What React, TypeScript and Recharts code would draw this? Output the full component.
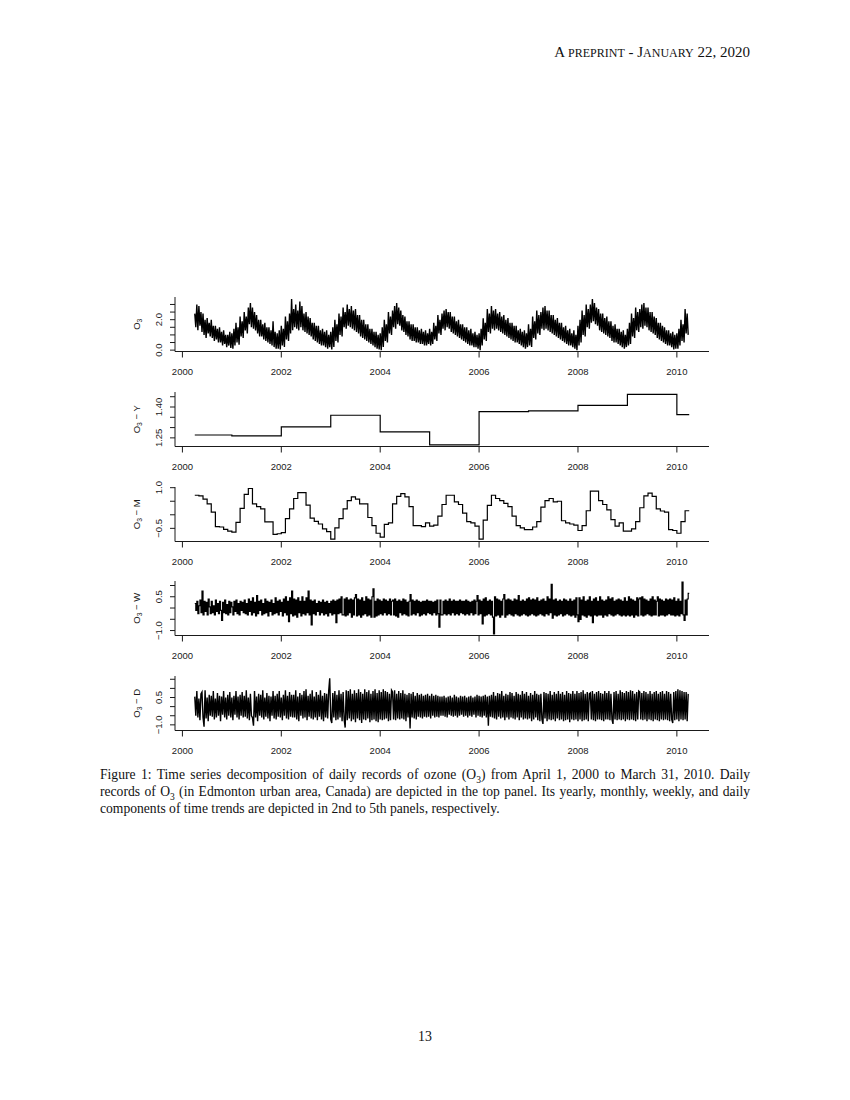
import React from 'react';
import { LineChart, Line, XAxis, YAxis } from 'recharts';

// time grid: daily records run from April 2000 to March 2010
const START = 2000.25;
const END = 2010.25;
const X_DOMAIN: [number, number] = [1999.85, 2010.65];
const yearTicks = [2000, 2002, 2004, 2006, 2008, 2010];

const ozoneDaily = [
  2.4, 1.5, 3.0, 1.3, 2.9, 1.6, 2.5, 1.2, 2.4, 1.0, 2.0, 0.8, 2.1, 1.1, 1.8, 0.9, 2.0, 0.8, 1.6, 0.6, 1.6, 0.7, 1.4, 0.5,
  1.5, 0.5, 1.2, 0.3, 1.3, 0.4, 1.0, 0.2, 1.0, 0.3, 1.2, 0.15, 1.1, 0.1, 1.4, 0.3, 1.8, 0.5, 1.5, 0.35, 2.2, 0.9, 1.9, 0.8,
  2.5, 1.3, 2.2, 1.1, 2.8, 1.7, 3.1, 1.5, 2.8, 1.4, 2.5, 1.3, 2.3, 1.1, 2.0, 0.9, 2.0, 0.9, 1.7, 0.7, 1.8, 0.6, 1.5, 0.5,
  1.5, 0.4, 1.3, 0.3, 1.9, 0.2, 1.2, 0.1, 1.1, 0.1, 1.3, 0.05, 1.6, 0.3, 1.4, 0.2, 2.2, 0.7, 1.9, 0.6, 2.4, 1.1, 3.35, 1.3,
  2.7, 1.5, 3.0, 1.4, 2.6, 1.3, 3.2, 1.5, 2.9, 1.3, 2.4, 1.2, 2.5, 1.1, 2.2, 1.0, 2.1, 0.9, 1.8, 0.7, 1.8, 0.6, 1.6, 0.5,
  1.6, 0.4, 1.3, 0.3, 1.4, 0.3, 1.2, 0.2, 1.3, 0.1, 1.0, 0.2, 1.2, 0.05, 1.5, 0.2, 2.0, 0.6, 1.7, 0.5, 2.4, 1.0, 2.2, 0.9,
  2.8, 1.5, 2.5, 1.4, 3.0, 1.6, 2.7, 1.5, 2.9, 1.4, 2.6, 1.3, 2.7, 1.2, 2.3, 1.1, 2.3, 0.9, 2.0, 0.8, 2.0, 0.7, 1.7, 0.6,
  1.7, 0.5, 1.4, 0.4, 1.4, 0.3, 1.2, 0.2, 1.2, 0.1, 1.0, 0.05, 1.1, 0.0, 1.5, 0.2, 2.0, 0.6, 1.7, 0.5, 2.5, 1.1, 2.2, 1.0,
  2.6, 1.5, 2.9, 1.4, 3.1, 1.7, 2.8, 1.6, 2.6, 1.3, 2.3, 1.2, 2.2, 1.0, 1.9, 0.9, 1.9, 0.7, 1.7, 0.6, 1.7, 0.6, 1.5, 0.5,
  1.5, 0.5, 1.3, 0.4, 1.4, 0.4, 1.2, 0.3, 1.3, 0.3, 1.1, 0.4, 1.4, 0.3, 1.2, 0.4, 1.8, 0.7, 1.6, 0.6, 2.3, 1.1, 2.0, 1.0,
  2.4, 1.4, 2.6, 1.3, 2.7, 1.5, 2.5, 1.4, 2.5, 1.2, 2.2, 1.1, 2.2, 1.0, 1.9, 0.9, 2.0, 0.8, 1.7, 0.7, 1.7, 0.6, 1.5, 0.5,
  1.5, 0.4, 1.3, 0.3, 1.4, 0.3, 1.1, 0.2, 1.2, 0.2, 1.0, 0.1, 1.1, 0.0, 1.4, 0.3, 2.1, 0.7, 1.8, 0.6, 2.7, 1.2, 2.4, 1.1,
  2.9, 1.4, 2.6, 1.3, 2.7, 1.4, 2.4, 1.3, 2.5, 1.2, 2.2, 1.1, 2.3, 1.0, 2.0, 0.9, 2.1, 0.8, 1.8, 0.7, 1.8, 0.6, 1.6, 0.5,
  1.6, 0.5, 1.3, 0.4, 1.4, 0.3, 1.2, 0.2, 1.3, 0.1, 1.1, 0.2, 1.7, 0.3, 1.4, 0.2, 2.2, 0.8, 1.9, 0.7, 2.6, 1.1, 2.3, 1.0,
  2.5, 1.4, 2.8, 1.3, 2.9, 1.4, 2.6, 1.3, 2.6, 1.2, 2.3, 1.1, 2.3, 1.0, 2.0, 0.9, 2.1, 0.8, 1.8, 0.7, 1.8, 0.6, 1.5, 0.5,
  1.6, 0.4, 1.3, 0.3, 1.4, 0.3, 1.1, 0.2, 1.3, 0.1, 1.0, 0.0, 1.6, 0.3, 2.0, 0.5, 2.6, 1.0, 2.3, 0.9, 3.0, 1.5, 2.7, 1.4,
  3.0, 1.8, 3.35, 1.9, 3.1, 1.7, 2.8, 1.6, 2.7, 1.3, 2.4, 1.2, 2.4, 1.1, 2.1, 1.0, 2.2, 0.9, 1.9, 0.8, 1.9, 0.6, 1.6, 0.5,
  1.7, 0.5, 1.4, 0.4, 1.4, 0.3, 1.2, 0.2, 1.3, 0.1, 1.0, 0.2, 1.4, 0.3, 1.8, 0.4, 2.4, 0.9, 2.1, 0.8, 2.8, 1.3, 2.5, 1.2,
  2.7, 1.5, 3.0, 1.4, 3.1, 1.6, 2.8, 1.5, 2.8, 1.3, 2.5, 1.2, 2.5, 1.1, 2.2, 1.0, 2.1, 0.8, 1.8, 0.7, 1.8, 0.6, 1.6, 0.5,
  1.5, 0.4, 1.3, 0.3, 1.3, 0.3, 1.1, 0.2, 1.2, 0.05, 1.0, 0.1, 1.1, 0.1, 1.4, 0.3, 2.0, 0.6, 1.7, 0.5, 2.7, 1.1, 2.4, 1.0,
];

// yearly component: calendar-year steps
const yearStarts = [2000.25, 2001, 2002, 2003, 2004, 2005, 2006, 2007, 2008, 2009, 2010];
const yearlyComp = [1.264, 1.26, 1.303, 1.36, 1.279, 1.216, 1.378, 1.381, 1.408, 1.461, 1.363];

// monthly component, Apr 2000 .. Mar 2010
const monthlyComp = [
  0.72, 0.7, 0.58, 0.4, 0.1, -0.44, -0.45, -0.54, -0.6,
  -0.64, -0.28, 0.24, 0.75, 0.97, 0.4, 0.3, 0.22, -0.26, -0.26, -0.72, -0.7,
  -0.66, -0.14, 0.22, 0.6, 0.82, 0.82, 0.36, -0.12, -0.24, -0.34, -0.52, -0.62,
  -0.9, -0.48, -0.14, 0.22, 0.52, 0.66, 0.58, 0.4, 0.4, -0.1, -0.4, -0.68,
  -0.82, -0.35, -0.3, 0.4, 0.68, 0.78, 0.66, 0.3, -0.4, -0.4, -0.44, -0.3,
  -0.42, -0.38, -0.05, 0.38, 0.72, 0.72, 0.48, 0.38, 0.06, -0.25, -0.3, -0.42,
  -0.9, -0.2, 0.35, 0.72, 0.6, 0.52, 0.42, 0.3, -0.05, -0.4, -0.48, -0.55,
  -0.55, -0.45, -0.25, 0.28, 0.52, 0.6, 0.48, 0.5, -0.22, -0.3, -0.34, -0.38,
  -0.58, -0.4, 0.15, 0.87, 0.87, 0.52, 0.38, 0.18, -0.18, -0.42, -0.3, -0.6,
  -0.6, -0.52, -0.25, 0.26, 0.7, 0.8, 0.68, 0.22, 0.14, 0.1, -0.55, -0.58,
  -0.68, -0.25, 0.15,
];

// weekly component, about one reading per week, Apr..Mar per row
const weeklyComp = [
  0.2, -0.1, 0.3, -0.25, 0.1, 0.35, -0.2, 0.75, -0.3, 0.3, -0.15, 0.25, -0.3, 0.4, 0.05, -0.25,
  0.3, -0.2, 0.1, -0.3, 0.35, -0.15, 0.2, -0.25, 0.3, -0.1, -0.55, 0.25, -0.2, 0.35, -0.25, 0.15,
  -0.3, 0.3, -0.2, 0.25, 0.05, -0.3, 0.3, -0.15, 0.35, -0.25, 0.2, -0.3, 0.3, -0.1, 0.25, -0.2,
  0.35, -0.25, 0.2, -0.3, 0.4, -0.15, 0.3, -0.3, 0.45, -0.2, 0.25, -0.35, 0.55, -0.25, 0.3, -0.1,
  0.35, -0.3, 0.2, -0.25, 0.4, -0.2, 0.3, -0.35, 0.25, -0.15, 0.35, -0.3, 0.2, -0.25, 0.45, -0.2,
  0.3, -0.3, 0.35, -0.15, 0.25, -0.35, 0.4, -0.2, 0.5, -0.3, 0.3, -0.6, 0.45, -0.25, 0.75, -0.35,
  0.4, -0.3, 0.35, -0.4, 0.45, -0.2, 0.3, -0.35, 0.5, -0.25, 0.3, -0.3, 0.45, -0.2, 0.75, -0.3,
  0.35, -0.75, 0.3, -0.25, 0.35, -0.3, 0.2, -0.15, 0.3, -0.3, 0.25, -0.2, 0.35, -0.3, 0.25, -0.25,
  0.3, -0.35, 0.2, -0.2, 0.3, -0.3, 0.35, -0.25, 0.3, -0.65, 0.35, -0.25, 0.4, -0.2, 0.5, -0.3,
  -0.3, 0.4, -0.35, 0.45, -0.3, 0.35, -0.2, 0.4, -0.4, 0.35, -0.3, 0.45, 0.6, -0.35, 0.4, -0.3,
  0.35, -0.4, 0.45, -0.3, 0.3, -0.25, 0.5, -0.35, 0.4, -0.3, 0.35, -0.4, 0.5, 0.85, -0.4, 0.3,
  -0.35, 0.4, -0.3, 0.35, -0.25, 0.3, -0.3, 0.4, -0.2, 0.35, -0.3, 0.3, -0.25, 0.4, -0.3, 0.3,
  0.35, -0.3, 0.4, -0.35, 0.3, -0.4, 0.35, -0.2, 0.3, -0.3, 0.4, -0.25, 0.35, -0.3, 0.25, -0.35,
  0.3, 0.6, -0.3, 0.35, -0.25, 0.3, -0.3, 0.35, -0.2, 0.3, -0.35, 0.25, -0.3, 0.3, -0.25, 0.3,
  -0.3, 0.35, -0.2, 0.3, -0.25, 0.3, -0.3, 0.25, -0.2, 0.3, -0.3, 0.35, -0.25, -0.85, 0.35, -0.3,
  -0.3, 0.3, -0.25, 0.35, -0.3, 0.3, -0.25, 0.4, -0.3, 0.3, -0.2, 0.35, -0.3, 0.3, -0.25, 0.3,
  -0.3, 0.35, -0.2, 0.3, -0.25, 0.3, -0.3, 0.35, -0.25, 0.3, -0.3, 0.25, -0.2, 0.3, -0.3, 0.35,
  -0.25, 0.3, 0.55, -0.3, 0.35, -0.25, 0.3, -0.7, 0.4, -0.35, 0.45, -0.3, 0.3, -0.25, 0.35, -0.3,
  0.3, -0.4, -1.15, 0.5, -0.35, 0.4, -0.3, 0.35, -0.4, 0.3, -0.3, 0.4, 0.6, -0.4, 0.35, -0.3,
  0.4, -0.25, 0.35, -0.3, 0.3, -0.35, 0.4, -0.25, 0.35, -0.3, 0.55, -0.35, 0.3, -0.3, 0.35, -0.25,
  0.3, -0.3, 0.4, -0.35, 0.45, -0.3, 0.35, -0.25, 0.4, -0.3, 0.35, -0.35, 0.45, -0.3, 0.3, -0.25,
  0.35, -0.3, 0.4, -0.35, 0.3, -0.25, 0.5, -0.3, 0.4, -0.2, 1.05, -0.45, 0.35, -0.3, 0.4, -0.35,
  0.3, -0.3, 0.35, -0.25, 0.3, -0.35, 0.4, -0.3, 0.35, -0.25, 0.3, -0.3, 0.4, -0.35, 0.3, -0.3,
  0.35, -0.4, 0.45, -0.3, -0.6, 0.45, -0.5, 0.35, -0.3, 0.5, -0.35, 0.3, -0.4, 0.35, -0.3, 0.5,
  -0.35, 0.3, -0.65, 0.4, -0.3, 0.45, -0.35, 0.3, -0.3, 0.5, -0.3, 0.35, -0.4, 0.3, -0.3, 0.35,
  -0.35, 0.5, -0.25, 0.4, -0.3, 0.45, -0.35, 0.3, -0.3, 0.35, -0.25, 0.4, -0.3, 0.35, -0.35, 0.3,
  -0.3, 0.45, -0.35, 0.3, -0.3, 0.5, -0.35, 0.4, -0.3, 0.35, -0.4, 0.3, -0.3, 0.45, -0.35, 0.4,
  0.45, -0.3, 0.5, -0.35, 0.4, -0.3, 0.35, -0.25, 0.3, -0.3, 0.4, -0.35, 0.5, -0.3, 0.35, -0.3,
  0.3, 0.5, -0.35, 0.4, -0.3, 0.35, -0.3, 0.3, -0.35, 0.4, -0.3, 0.35, -0.25, 0.4, -0.3, 0.35,
  -0.3, 0.45, -0.35, 0.3, -0.3, 0.4, -0.35, 0.3, -0.25, 1.15, -0.3, -0.55, 0.35, -0.3, 0.4, 0.65,
];

// daily component, alternating peaks / troughs, four per month, Apr..Mar per row
const dailyComp = [
  0.55, -0.5, 0.85, -0.6, 0.45, -0.75, 0.7, 0.8, -0.6, -1.1, 0.9, -0.65, 0.5, -0.8, 0.65, -0.5,
  0.6, -0.55, 0.85, -0.7, 0.45, -0.6, 0.75, -0.5, 0.6, -0.8, 0.55, -0.45, 0.85, -0.6, 0.5, -0.7,
  0.65, -0.5, 0.8, -0.6, 0.5, -0.75, 0.6, -0.45, 0.85, -0.6, 0.55, -0.7, 0.65, -0.5, 0.8, -0.6,
  0.6, -0.55, 0.9, -0.65, 0.5, -0.75, 0.7, -0.5, -0.6, -1.05, 0.85, -0.6, 0.55, -0.8, 0.7, -0.5,
  0.65, -0.6, 0.9, -0.7, 0.5, -0.55, 0.75, -0.65, 0.6, -0.8, 0.55, -0.5, 0.85, -0.65, 0.6, -0.7,
  0.7, -0.55, 0.85, -0.6, 0.5, -0.75, 0.65, -0.5, 0.9, -0.65, 0.6, -0.7, 0.8, -0.55, 0.65, -0.6,
  0.65, -0.6, 0.9, -0.7, 0.55, -0.8, 0.75, -0.5, 0.65, -0.65, 0.85, -0.6, 0.95, -0.75, 0.6, -0.55,
  0.7, -0.65, 0.9, -0.7, 0.55, -0.6, 0.8, -0.75, 0.65, -0.55, 0.9, -0.7, 0.6, -0.8, 0.75, -0.6,
  0.7, -0.65, 0.85, 1.56, -0.7, -0.9, 0.75, -0.6, 0.85, -0.75, 0.65, -0.7, 0.9, -0.6, 0.7, -0.8,
  0.8, -0.7, -1.15, 0.9, -0.75, 0.85, -0.65, 0.95, -0.8, 0.7, -0.7, 0.9, -0.85, 0.75, -0.65, 0.95,
  -0.75, 0.8, -0.9, 0.7, -0.7, 0.95, -0.75, 0.8, -0.65, 0.9, -0.85, 0.7, -0.75, 0.85, -0.7, 0.95,
  -0.8, 0.75, -0.85, 0.9, -0.7, 0.8, -0.75, 0.95, -0.7, 0.85, -0.65, 0.8, -0.8, 0.7, -0.75, 0.9,
  0.8, -0.7, 0.9, -0.75, 0.7, -0.65, 0.85, -0.7, 0.75, -0.65, 0.9, -0.7, 0.7, -0.8, 0.65, -0.6,
  0.75, -1.2, 0.7, -0.6, 0.8, -0.65, 0.6, -0.7, 0.75, -0.55, 0.65, -0.6, 0.7, -0.65, 0.6, -0.55,
  0.65, -0.6, 0.7, -0.55, 0.6, -0.65, 0.7, -0.5, 0.6, -0.6, 0.65, -0.55, 0.6, -0.6, 0.55, -0.5,
  0.55, -0.5, 0.6, -0.55, 0.5, -0.6, 0.55, -0.45, 0.6, -0.5, 0.5, -0.55, 0.65, -0.5, 0.55, -0.6,
  0.5, -0.5, 0.6, -0.45, 0.55, -0.55, 0.6, -0.5, 0.5, -0.6, 0.55, -0.5, 0.6, -0.55, 0.5, -0.45,
  0.55, -0.6, 0.65, -0.5, 0.6, -0.55, 0.55, -0.6, 0.6, -0.5, 0.65, -0.6, 0.55, -1.05, 0.6, -0.55,
  0.65, -0.6, 0.8, -0.65, 0.6, -0.7, 0.75, -0.55, 0.7, -0.65, 0.85, -0.6, 0.6, -0.75, 0.7, -0.6,
  0.65, -0.7, 0.8, -0.6, 0.75, -0.65, 0.6, -0.7, 0.8, -0.6, 0.7, -0.75, 0.65, -0.6, 0.85, -0.7,
  0.7, -0.65, 0.8, -0.7, 0.6, -0.65, 0.75, -0.8, 0.65, -0.7, 0.85, -0.6, 0.7, -0.75, 0.65, -0.8,
  0.7, -0.7, -0.95, 0.8, -0.65, 0.75, -0.8, 0.7, -0.7, 0.85, -0.75, 0.65, -0.7, 0.8, -0.8, 0.7,
  -0.65, 0.85, -0.75, 0.7, -0.7, 0.8, -0.8, 0.65, -0.75, 0.85, -0.7, 0.75, -0.85, 0.7, -0.7, 0.85,
  -0.75, 0.7, -0.7, 0.85, -0.8, 0.75, -0.7, 0.8, -0.8, 0.9, -0.75, 0.7, -0.7, 0.8, -0.8, 0.7,
  0.75, -0.7, 0.85, -0.75, 0.7, -0.8, 0.8, -0.7, 0.85, -0.7, 0.75, -0.75, 0.7, -0.8, 0.85, -0.7,
  0.75, -0.7, 0.85, -0.75, 0.7, -0.7, -0.95, 0.8, -0.7, 0.85, -0.75, 0.7, -0.7, 0.9, -0.75, 0.8,
  -0.7, 0.75, -0.8, 0.85, -0.7, 0.8, -0.75, 0.9, -0.7, 0.85, -0.75, 0.7, -0.8, 0.8, -0.7, 0.85,
  0.8, -0.7, 0.75, -0.75, 0.85, -0.7, 0.8, -0.8, 0.7, -0.7, 0.85, -0.75, 0.7, -0.8, 0.8, -0.7,
  0.85, -0.75, 0.7, -0.8, 0.8, -0.7, 0.85, -0.75, 0.7, -0.7, 0.85, -0.75, 0.8, -0.8, 0.7, -0.7,
  -0.9, 0.8, -0.75, 0.85, -0.7, 0.95, -0.8, 0.9, -0.7, 0.85, -0.75, 0.8, -0.7, 0.8, -0.8, 0.7,
];

// y ticks per panel, and which of them R kept a label for
const o3Ticks = [0, 0.5, 1, 1.5, 2, 2.5, 3];
const o3Labels = [0, 2];
const yTicks = [1.25, 1.3, 1.35, 1.4, 1.45];
const yLabels = [1.25, 1.4];
const mTicks = [-0.5, 0, 0.5, 1];
const mLabels = [-0.5, 1];
const wTicks = [-1, -0.5, 0, 0.5, 1];
const wLabels = [-1, 0.5];
const dTicks = [-1, -0.5, 0, 0.5, 1, 1.5];
const dLabels = [-1, 0.5];

const spread = (vals: number[]) => vals.map((v, i) => ({ t: START + (i * (END - START)) / vals.length, v }));
const spreadStep = (vals: number[]) => [...spread(vals), { t: END, v: vals[vals.length - 1] }];
const perYearStep = (starts: number[], vals: number[]) => [
  ...starts.map((t, i) => ({ t, v: vals[i] })),
  { t: END, v: vals[vals.length - 1] },
];

const FONT = '"Liberation Sans", Arial, Helvetica, sans-serif';
const SERIF = '"Liberation Serif", "Times New Roman", Times, serif';
const INK = '#1a1a1a';

const BOX_LEFT = 175;
const BOX_RIGHT = 709;
const BOX_H = 54.5;
const PAD_TOP = 10;
const AXIS_H = 32;
const Y_AXIS_W = 45;
const TICK_FS = 9.5;

const fmt = (v: number, digits: number) => v.toFixed(digits).replace('-', '\u2212');

function YTitle({ suffix }: { suffix: string }) {
  const cx = 139.5;
  const cy = PAD_TOP + BOX_H / 2;
  return (
    <text x={cx} y={cy} transform={`rotate(-90, ${cx}, ${cy})`} textAnchor="middle"
      fontFamily={FONT} fontSize={TICK_FS} fill={INK}>
      <tspan>O</tspan>
      <tspan dy={2.5} fontSize={6.8}>3</tspan>
      <tspan dy={-2.5}>{suffix}</tspan>
    </text>
  );
}

interface PanelProps {
  top: number;
  data: { t: number; v: number }[];
  curve: 'linear' | 'stepAfter';
  yDomain: [number, number];
  ticks: number[];
  labelled: number[];
  digits: number;
  suffix: string;
  strokeWidth: number;
}

function Panel({ top, data, curve, yDomain, ticks, labelled, digits, suffix, strokeWidth }: PanelProps) {
  return (
    <div style={{ position: 'absolute', left: 0, top: top - PAD_TOP }}>
      <LineChart width={850} height={PAD_TOP + BOX_H + AXIS_H} data={data}
        margin={{ top: PAD_TOP, right: 850 - BOX_RIGHT, bottom: 0, left: BOX_LEFT - Y_AXIS_W }}>
        <XAxis xAxisId="b" dataKey="t" type="number" domain={X_DOMAIN} ticks={yearTicks} interval={0}
          allowDataOverflow height={AXIS_H} tickSize={6} stroke={INK}
          tick={(p: any) => (
            <text x={p.x} y={PAD_TOP + BOX_H + 23.5} textAnchor="middle" fontFamily={FONT} fontSize={TICK_FS} fill={INK}>
              {p.payload.value}
            </text>
          )} />
        <XAxis xAxisId="top" orientation="top" dataKey="t" type="number" domain={X_DOMAIN}
          allowDataOverflow height={0} tick={false} tickLine={false} stroke={INK} />
        <YAxis yAxisId="l" type="number" domain={yDomain} ticks={ticks} interval={0} allowDataOverflow
          width={Y_AXIS_W} tickSize={5} stroke={INK} label={<YTitle suffix={suffix} />}
          tick={(p: any) => {
            const v = p.payload.value;
            if (!labelled.some((l) => Math.abs(l - v) < 1e-9)) return <g />;
            const bx = 162;
            return (
              <text x={bx} y={p.y} transform={`rotate(-90, ${bx}, ${p.y})`} textAnchor="middle"
                fontFamily={FONT} fontSize={TICK_FS} fill={INK}>
                {fmt(v, digits)}
              </text>
            );
          }} />
        <YAxis yAxisId="r" orientation="right" type="number" domain={yDomain} allowDataOverflow
          width={0} tick={false} tickLine={false} stroke={INK} />
        <Line xAxisId="b" yAxisId="l" dataKey="v" type={curve} stroke="#000" strokeWidth={strokeWidth}
          dot={false} isAnimationActive={false} />
      </LineChart>
    </div>
  );
}

const small = { fontSize: 12 };

export default function App() {
  return (
    <div style={{ position: 'absolute', left: 0, top: 0, width: 850, height: 1100, background: '#fff' }}>
      <div style={{ position: 'absolute', right: 100, top: 44, fontFamily: SERIF, fontSize: 15,
        color: '#111', whiteSpace: 'nowrap' }}>
        A <span style={small}>PREPRINT</span> - J<span style={small}>ANUARY</span> 22, 2020
      </div>

      <Panel top={297} data={spread(ozoneDaily)} curve="linear" yDomain={[-0.09, 3.49]}
        ticks={o3Ticks} labelled={o3Labels} digits={1} suffix="" strokeWidth={1.4} />
      <Panel top={391.5} data={perYearStep(yearStarts, yearlyComp)} curve="stepAfter" yDomain={[1.208, 1.473]}
        ticks={yTicks} labelled={yLabels} digits={2} suffix={' \u2212 Y'} strokeWidth={1.2} />
      <Panel top={486.5} data={spreadStep(monthlyComp)} curve="stepAfter" yDomain={[-0.985, 1.025]}
        ticks={mTicks} labelled={mLabels} digits={1} suffix={' \u2212 M'} strokeWidth={1.2} />
      <Panel top={581} data={spreadStep(weeklyComp)} curve="stepAfter" yDomain={[-1.22, 1.2]}
        ticks={wTicks} labelled={wLabels} digits={1} suffix={' \u2212 W'} strokeWidth={1.2} />
      <Panel top={676} data={spread(dailyComp)} curve="linear" yDomain={[-1.31, 1.68]}
        ticks={dTicks} labelled={dLabels} digits={1} suffix={' \u2212 D'} strokeWidth={1.4} />

      <div style={{ position: 'absolute', left: 100, top: 766, width: 650, fontFamily: SERIF, fontSize: 13.6,
        lineHeight: '17px', color: '#111' }}>
        <div style={{ textAlign: 'justify', textAlignLast: 'justify', whiteSpace: 'nowrap' }}>
          Figure 1: Time series decomposition of daily records of ozone (O<sub style={{ fontSize: 9.5, lineHeight: 0 }}>3</sub>) from April 1, 2000 to March 31, 2010. Daily
        </div>
        <div style={{ textAlign: 'justify', textAlignLast: 'justify', whiteSpace: 'nowrap' }}>
          records of O<sub style={{ fontSize: 9.5, lineHeight: 0 }}>3</sub> (in Edmonton urban area, Canada) are depicted in the top panel. Its yearly, monthly, weekly, and daily
        </div>
        <div>components of time trends are depicted in 2nd to 5th panels, respectively.</div>
      </div>

      <div style={{ position: 'absolute', left: 0, width: 850, top: 1029, textAlign: 'center', fontFamily: SERIF,
        fontSize: 13.9, color: '#111' }}>
        13
      </div>
    </div>
  );
}
